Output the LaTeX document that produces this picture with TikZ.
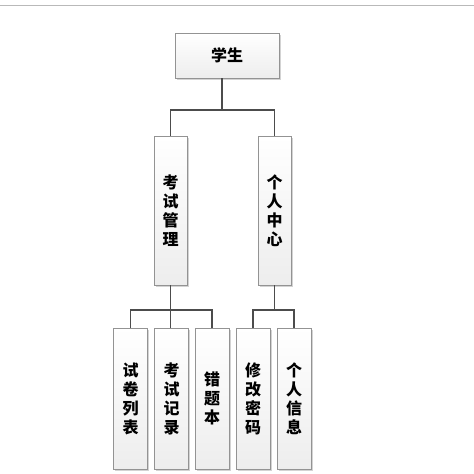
\documentclass[tikz,border=0pt]{standalone}
\usepackage{fontspec}
\usepackage{tikz}
\usetikzlibrary{shadows,calc}
\newfontfamily\cjk{Noto Sans CJK SC}

\tikzset{
  box/.style={draw=gray!85, line width=0.8pt, top color=white, bottom color=gray!14,
    drop shadow={shadow xshift=1.5pt, shadow yshift=-1.5pt, opacity=0.35},
    inner sep=0pt, align=center, font=\cjk\bfseries\fontsize{16}{19}\selectfont},
  tallbox/.style={box, minimum width=33pt, minimum height=149pt},
  leafbox/.style={box, minimum width=34pt, minimum height=141pt},
  link/.style={draw=black!70, line width=1.1pt}
}

\begin{document}
\begin{tikzpicture}[x=1pt,y=-1pt]
\useasboundingbox (0,0) rectangle (474,474);
%%Frame line
\draw[gray!55, line width=1pt] (0,5.5) -- (474,5.5);
%%Boxes
\node[box, minimum width=104pt, minimum height=45pt] (student) at (227,55.5) {学生};
\node[tallbox] (exam) at (170.5,210.5) {考\\试\\管\\理};
\node[tallbox] (center) at (274.5,210.5) {个\\人\\中\\心};

\node[leafbox] (paper) at (130.5,398.5) {试\\卷\\列\\表};
\node[leafbox] (record) at (171.5,398.5) {考\\试\\记\\录};
\node[leafbox] (wrong) at (212,398.5) {错\\题\\本};
\node[leafbox] (passwd) at (253,398.5) {修\\改\\密\\码};
\node[leafbox] (info) at (294,398.5) {个\\人\\信\\息};

%%Joints
\coordinate (j1) at (222,110);
\coordinate (j2) at (170.5,310);
\coordinate (j3) at (274.5,310);

%%Links
\draw[link] (j1) -- (j1 |- student.south);
\draw[link] (exam.north) |- (j1) -| (center.north);

\draw[link] (exam.south) -- (j2) -- (exam.south |- record.north);
\draw[link] (paper.north) |- (j2) -| (wrong.north);

\draw[link] (center.south) -- (j3);
\draw[link] (passwd.north) |- (j3) -| (info.north);
\end{tikzpicture}
\end{document}
